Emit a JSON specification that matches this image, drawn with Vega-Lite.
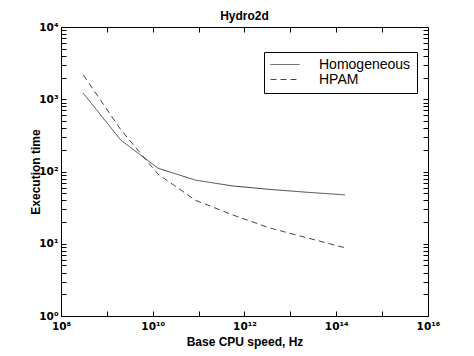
{
  "$schema": "https://vega.github.io/schema/vega-lite/v6.json",
  "width": 367,
  "height": 289,
  "autosize": "none",
  "padding": {"left": 61, "top": 27, "right": 46, "bottom": 40},
  "background": "white",
  "title": {"text": "Hydro2d", "font": "Liberation Sans", "fontSize": 12, "fontWeight": "bold", "color": "black", "offset": -1},
  "config": {
    "view": {"stroke": "black", "strokeWidth": 1},
    "axis": {
      "domain": false,
      "grid": false,
      "ticks": true,
      "tickColor": "black",
      "tickSize": -5,
      "tickWidth": 1,
      "labelFont": "DejaVu Sans",
      "labelFontSize": 10.5,
      "labelFontWeight": "bold",
      "labelColor": "black",
      "titleFont": "Liberation Sans",
      "titleFontSize": 12,
      "titleFontWeight": "bold",
      "titleColor": "black",
      "labelOverlap": false,
      "labelFlush": false
    },
    "legend": {
      "strokeColor": "black",
      "strokeWidth": 1,
      "fillColor": "white",
      "padding": 6,
      "labelFont": "Liberation Sans",
      "labelFontSize": 14,
      "labelColor": "black",
      "symbolType": "stroke",
      "symbolSize": 841,
      "symbolStrokeColor": "#444",
      "symbolStrokeWidth": 1,
      "labelOffset": 19,
      "clipHeight": 13,
      "rowPadding": 0
    }
  },
  "data": {
    "values": [
      {"speed": 3.06e8, "time": 1210, "series": "Homogeneous"},
      {"speed": 2.0e9, "time": 273, "series": "Homogeneous"},
      {"speed": 1.3e10, "time": 111, "series": "Homogeneous"},
      {"speed": 8.5e10, "time": 76, "series": "Homogeneous"},
      {"speed": 5.6e11, "time": 63, "series": "Homogeneous"},
      {"speed": 3.6e12, "time": 56.5, "series": "Homogeneous"},
      {"speed": 2.4e13, "time": 51.5, "series": "Homogeneous"},
      {"speed": 1.55e14, "time": 47.5, "series": "Homogeneous"},
      {"speed": 3.06e8, "time": 2170, "series": "HPAM"},
      {"speed": 2.0e9, "time": 380, "series": "HPAM"},
      {"speed": 1.3e10, "time": 92, "series": "HPAM"},
      {"speed": 8.5e10, "time": 40, "series": "HPAM"},
      {"speed": 5.6e11, "time": 25, "series": "HPAM"},
      {"speed": 3.6e12, "time": 16.5, "series": "HPAM"},
      {"speed": 2.4e13, "time": 12, "series": "HPAM"},
      {"speed": 1.55e14, "time": 8.8, "series": "HPAM"}
    ]
  },
  "layer": [
    {
      "mark": {"type": "line", "strokeWidth": 1, "color": "#444"},
      "encoding": {
        "x": {
          "field": "speed", "type": "quantitative",
          "scale": {"type": "log", "domain": [1e8, 1e16], "nice": false},
          "axis": {
            "orient": "bottom",
            "title": "Base CPU speed, Hz",
            "values": [1e8, 1e9, 1e10, 1e11, 1e12, 1e13, 1e14, 1e15, 1e16],
            "labelExpr": "datum.value == 1e8 ? '10⁸' : datum.value == 1e10 ? '10¹⁰' : datum.value == 1e12 ? '10¹²' : datum.value == 1e14 ? '10¹⁴' : datum.value == 1e16 ? '10¹⁶' : ''",
            "labelPadding": 10,
            "titlePadding": 5
          }
        },
        "y": {
          "field": "time", "type": "quantitative",
          "scale": {"type": "log", "domain": [1, 10000], "nice": false},
          "axis": {
            "orient": "left",
            "title": "Execution time",
            "values": [1,2,3,4,5,6,7,8,9,10,20,30,40,50,60,70,80,90,100,200,300,400,500,600,700,800,900,1000,2000,3000,4000,5000,6000,7000,8000,9000,10000],
            "labelExpr": "datum.value == 1 ? '10⁰' : datum.value == 10 ? '10¹' : datum.value == 100 ? '10²' : datum.value == 1000 ? '10³' : datum.value == 10000 ? '10⁴' : ''",
            "labelPadding": 8,
            "titlePadding": -4
          }
        },
        "strokeDash": {
          "field": "series", "type": "nominal",
          "scale": {"domain": ["Homogeneous", "HPAM"], "range": [[1, 0], [6, 4]]},
          "legend": {"title": null, "orient": "none", "legendX": 203, "legendY": 25}
        }
      }
    },
    {
      "mark": {"type": "line", "opacity": 0},
      "encoding": {
        "x": {
          "field": "speed", "type": "quantitative",
          "axis": {"orient": "top", "title": null, "labels": false,
            "values": [1e8, 1e9, 1e10, 1e11, 1e12, 1e13, 1e14, 1e15, 1e16]}
        },
        "y": {
          "field": "time", "type": "quantitative",
          "axis": {"orient": "right", "title": null, "labels": false,
            "values": [1,2,3,4,5,6,7,8,9,10,20,30,40,50,60,70,80,90,100,200,300,400,500,600,700,800,900,1000,2000,3000,4000,5000,6000,7000,8000,9000,10000]}
        },
        "detail": {"field": "series", "type": "nominal"}
      }
    }
  ],
  "resolve": {"axis": {"x": "independent", "y": "independent"}}
}
